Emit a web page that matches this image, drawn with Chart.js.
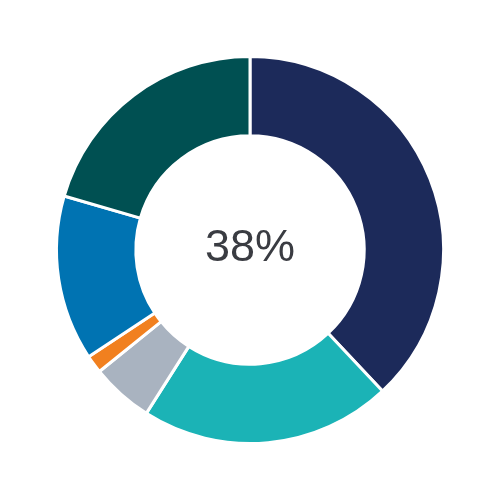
<!DOCTYPE html>
<html><head><meta charset="utf-8">
<script src="https://cdn.jsdelivr.net/npm/chart.js@4/dist/chart.umd.min.js"></script>
<style>html,body{margin:0;padding:0;background:#fff}#wrap{width:500px;height:500px}</style>
</head><body><div id="wrap"><canvas id="c"></canvas></div>
<script>
const categories = ['A','B','C','D','E','F'];
const values = [38, 21, 5.2, 1.5, 13.8, 20.5];
const colors = ['#1c2a5a','#1bb3b6','#a9b3c0','#f1801f','#0073b2','#005052'];
const centerLabel = '38%';
const centerText = {
  id:'centerText',
  afterDraw(chart){
    const {ctx} = chart; const m = chart.getDatasetMeta(0).data[0];
    ctx.save(); ctx.font = '45px "Liberation Sans", Arial, sans-serif';
    ctx.fillStyle = '#3a3c42'; ctx.textAlign='center'; ctx.textBaseline='middle';
    ctx.fillText(centerLabel, m.x, m.y-1); ctx.restore();
  }
};
new Chart(document.getElementById('c'), {
  type:'doughnut',
  data:{labels:categories, datasets:[{data:values, backgroundColor:colors, borderColor:'#ffffff', borderWidth:3}]},
  options:{responsive:true, maintainAspectRatio:false, animation:false, cutout:'59%',
    layout:{padding:55},
    plugins:{legend:{display:false}, tooltip:{enabled:false}}},
  plugins:[centerText]
});
</script></body></html>
